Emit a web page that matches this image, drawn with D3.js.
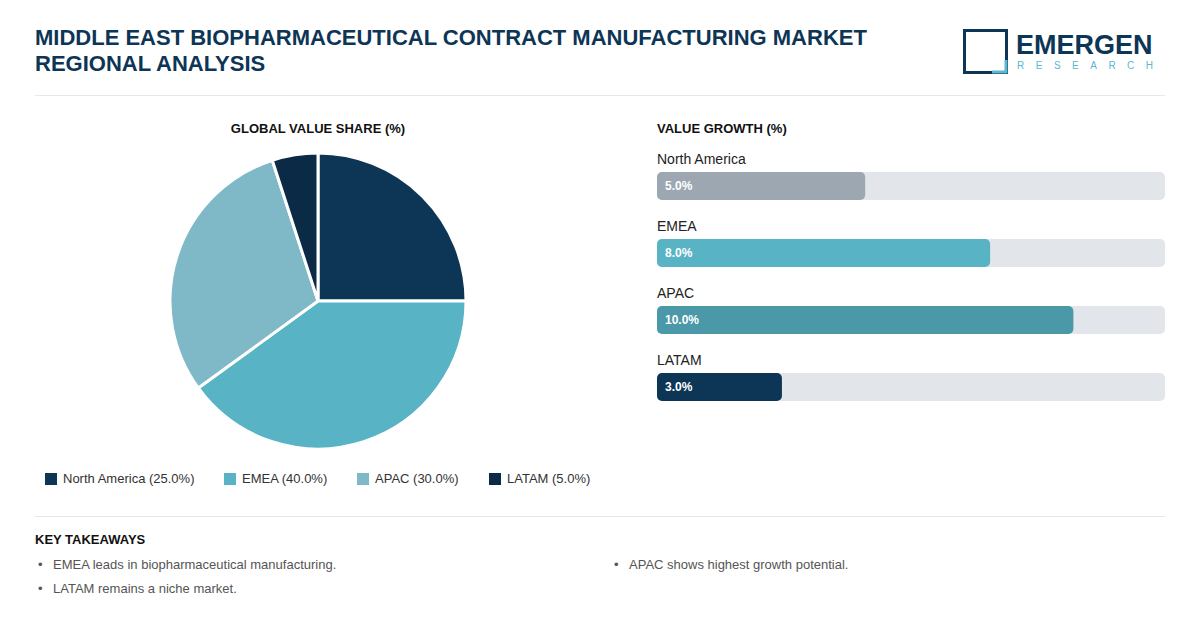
<!DOCTYPE html>
<html>
<head>
<meta charset="utf-8">
<script src="https://cdn.jsdelivr.net/npm/d3@7"></script>
<style>
  body { margin: 0; background: #fff; }
  svg { font-family: "Liberation Sans", Arial, sans-serif; }
</style>
</head>
<body>
<div id="chart"></div>
<script>
// Data
const regions = ["North America", "EMEA", "APAC", "LATAM"];
const shareValues = [25.0, 40.0, 30.0, 5.0];
const growthValues = [5.0, 8.0, 10.0, 3.0];
const pieColors = ["#0d3556", "#58b3c5", "#7fb8c6", "#0a2a45"];
const barColors = ["#9ca7b1", "#58b3c5", "#4b98a8", "#0d3556"];
const takeawaysLeft = ["EMEA leads in biopharmaceutical manufacturing.", "LATAM remains a niche market."];
const takeawaysRight = ["APAC shows highest growth potential."];

const width = 1200, height = 620;

const svg = d3.select("#chart").append("svg")
    .attr("width", width)
    .attr("height", height);

// Title
svg.append("text")
    .attr("x", 35).attr("y", 45)
    .attr("fill", "#0d3556")
    .style("font-size", "22px").style("font-weight", "bold")
    .text("MIDDLE EAST BIOPHARMACEUTICAL CONTRACT MANUFACTURING MARKET");
svg.append("text")
    .attr("x", 35).attr("y", 71)
    .attr("fill", "#0d3556")
    .style("font-size", "22px").style("font-weight", "bold")
    .text("REGIONAL ANALYSIS");

// Logo
const logo = svg.append("g");
logo.append("rect")
    .attr("x", 964.5).attr("y", 30.5)
    .attr("width", 42).attr("height", 42)
    .attr("fill", "none")
    .attr("stroke", "#0d3556")
    .attr("stroke-width", 3);
logo.append("path")
    .attr("d", "M1006,60 L1006,72 L992,72")
    .attr("fill", "none")
    .attr("stroke", "#5bb8d0")
    .attr("stroke-width", 3);
logo.append("text")
    .attr("x", 1016).attr("y", 54)
    .attr("fill", "#0d3556")
    .style("font-size", "27px").style("font-weight", "bold")
    .text("EMERGEN");
logo.append("text")
    .attr("x", 1017).attr("y", 68.5)
    .attr("fill", "#5bb8d0")
    .style("font-size", "10px")
    .style("letter-spacing", "11.5px")
    .text("RESEARCH");

// Dividers
svg.append("line")
    .attr("x1", 35).attr("x2", 1165)
    .attr("y1", 95.5).attr("y2", 95.5)
    .attr("stroke", "#e5e7eb");
svg.append("line")
    .attr("x1", 35).attr("x2", 1165)
    .attr("y1", 516.5).attr("y2", 516.5)
    .attr("stroke", "#e5e7eb");

// Pie chart
const cx = 318, cy = 301, radius = 148;

svg.append("text")
    .attr("x", cx).attr("y", 133)
    .attr("text-anchor", "middle")
    .attr("fill", "#111")
    .style("font-size", "13px").style("font-weight", "bold")
    .text("GLOBAL VALUE SHARE (%)");

const pie = d3.pie().sort(null).value(d => d);
const arc = d3.arc().innerRadius(0).outerRadius(radius);

svg.append("g")
    .attr("transform", `translate(${cx},${cy})`)
    .selectAll("path")
    .data(pie(shareValues))
    .enter()
    .append("path")
    .attr("d", arc)
    .attr("fill", (d, i) => pieColors[i])
    .attr("stroke", "#fff")
    .attr("stroke-width", 3);

// Legend
const legendX = [45, 224, 357, 489];
const legend = svg.append("g");
regions.forEach((r, i) => {
    legend.append("rect")
        .attr("x", legendX[i]).attr("y", 473)
        .attr("width", 12).attr("height", 12)
        .attr("fill", pieColors[i]);
    legend.append("text")
        .attr("x", legendX[i] + 18).attr("y", 483)
        .attr("fill", "#333")
        .style("font-size", "13px")
        .text(`${r} (${shareValues[i].toFixed(1)}%)`);
});

// Growth bars
const barLeft = 657, barRight = 1165;

svg.append("text")
    .attr("x", barLeft).attr("y", 133)
    .attr("fill", "#111")
    .style("font-size", "13px").style("font-weight", "bold")
    .text("VALUE GROWTH (%)");

const x = d3.scaleLinear()
    .domain([0, d3.max(growthValues) * 1.22])
    .range([0, barRight - barLeft]);

const y = d3.scaleBand()
    .domain(regions)
    .range([150, 418])
    .paddingInner(0);

const barH = 28;
const rows = svg.selectAll(".row")
    .data(regions)
    .enter()
    .append("g")
    .attr("transform", d => `translate(${barLeft},${y(d)})`);

rows.append("text")
    .attr("x", 0).attr("y", 14)
    .attr("fill", "#222")
    .style("font-size", "14px")
    .text(d => d);

rows.append("rect")
    .attr("x", 0).attr("y", 22)
    .attr("width", barRight - barLeft)
    .attr("height", barH)
    .attr("rx", 5)
    .attr("fill", "#e2e6ea");

rows.append("rect")
    .attr("x", 0).attr("y", 22)
    .attr("width", (d, i) => x(growthValues[i]))
    .attr("height", barH)
    .attr("rx", 5)
    .attr("fill", (d, i) => barColors[i]);

rows.append("text")
    .attr("x", 8).attr("y", 22 + barH / 2 + 4)
    .attr("fill", "#fff")
    .style("font-size", "12px").style("font-weight", "bold")
    .text((d, i) => `${growthValues[i].toFixed(1)}%`);

// Key takeaways
svg.append("text")
    .attr("x", 35).attr("y", 544)
    .attr("fill", "#111")
    .style("font-size", "13px").style("font-weight", "bold")
    .text("KEY TAKEAWAYS");

function addBullets(list, x0) {
    list.forEach((t, i) => {
        const yy = 569 + i * 24;
        svg.append("text")
            .attr("x", x0).attr("y", yy)
            .attr("fill", "#555")
            .style("font-size", "13px")
            .text("•");
        svg.append("text")
            .attr("x", x0 + 15).attr("y", yy)
            .attr("fill", "#555")
            .style("font-size", "13px")
            .text(t);
    });
}
addBullets(takeawaysLeft, 38);
addBullets(takeawaysRight, 614);
</script>
</body>
</html>
